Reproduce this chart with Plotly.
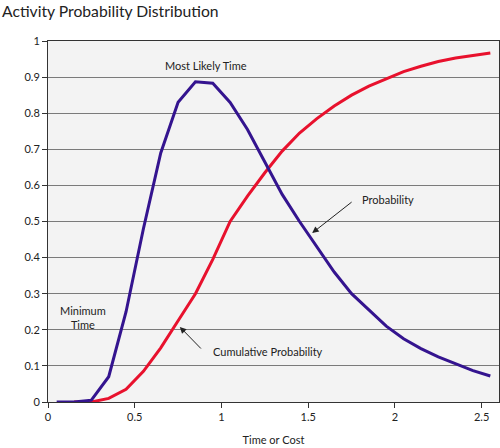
import plotly.graph_objects as go

# Activity probability distribution: density vs cumulative
time_pts = [0.05, 0.15, 0.25, 0.35, 0.45, 0.55, 0.65, 0.75, 0.85, 0.95, 1.05, 1.15, 1.25,
            1.35, 1.45, 1.55, 1.65, 1.75, 1.85, 1.95, 2.05, 2.15, 2.25, 2.35, 2.45, 2.55]
probability = [0.0, 0.0, 0.005, 0.07, 0.25, 0.48, 0.69, 0.83, 0.887, 0.883, 0.83, 0.755, 0.665,
               0.575, 0.50, 0.43, 0.36, 0.30, 0.255, 0.21, 0.175, 0.148, 0.125, 0.105, 0.087, 0.072]
cumulative = [None, 0.0, 0.0, 0.01, 0.035, 0.085, 0.15, 0.225, 0.30, 0.395, 0.50, 0.57, 0.635,
              0.695, 0.745, 0.785, 0.82, 0.85, 0.875, 0.895, 0.915, 0.93, 0.943, 0.953, 0.961, 0.967]

font = "Lato, 'Open Sans', sans-serif"

fig = go.Figure()
fig.add_trace(go.Scatter(x=time_pts, y=cumulative, mode="lines",
                         line=dict(color="#e8112d", width=3), name="Cumulative Probability"))
fig.add_trace(go.Scatter(x=time_pts, y=probability, mode="lines",
                         line=dict(color="#34148f", width=3), name="Probability"))

fig.update_layout(
    width=500, height=448,
    margin=dict(l=48, r=1, t=41, b=46),
    paper_bgcolor="white",
    plot_bgcolor="#f3f3f3",
    showlegend=False,
    font=dict(family=font, size=11, color="#222"),
    title=dict(text="Activity Probability Distribution", x=0.004, xanchor="left",
               y=1 - 12 / 448, yanchor="middle", font=dict(family=font, size=15.7, color="#222")),
)
fig.update_xaxes(range=[0, 2.6], dtick=0.5, showgrid=False, zeroline=False,
                 ticks="outside", ticklen=5, tickcolor="#333",
                 showline=True, linecolor="#333", mirror=True,
                 title=dict(text="Time or Cost", standoff=14, font=dict(size=11)))
fig.update_yaxes(range=[0, 1], dtick=0.1, showgrid=True, gridcolor="#7a7a7a", gridwidth=1,
                 zeroline=False, ticks="outside", ticklen=5, tickcolor="#333",
                 showline=True, linecolor="#333", mirror=True)

fig.add_annotation(x=0.908, y=0.931, text="Most Likely Time", showarrow=False)
fig.add_annotation(x=0.20, y=0.233, text="Minimum<br>Time", showarrow=False)
fig.add_annotation(x=0.76, y=0.208, ax=0.89, ay=0.144, axref="x", ayref="y",
                   text="", showarrow=True, arrowhead=2, arrowsize=1.3, arrowwidth=1, arrowcolor="#222")
fig.add_annotation(x=0.94, y=0.139, text="Cumulative Probability", showarrow=False, xanchor="left")
fig.add_annotation(x=1.523, y=0.468, ax=1.759, ay=0.557, axref="x", ayref="y",
                   text="", showarrow=True, arrowhead=2, arrowsize=1.3, arrowwidth=1, arrowcolor="#222")
fig.add_annotation(x=1.80, y=0.562, text="Probability", showarrow=False, xanchor="left")

# drop the default page margin so the 500x448 figure fits the window
fig.write_html("out.html", config={"displayModeBar": False},
               post_script="document.body.style.margin='0';")
